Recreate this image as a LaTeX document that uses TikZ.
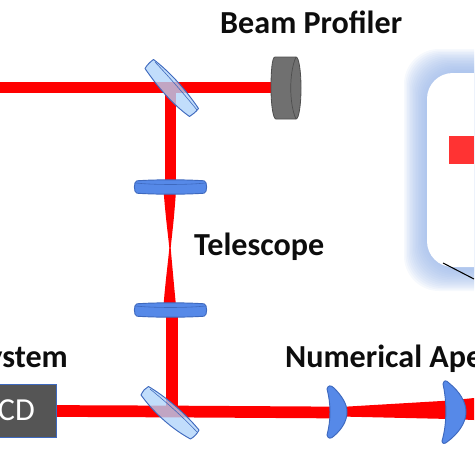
\documentclass[tikz,border=0pt]{standalone}
\usepackage{fontspec}
\setmainfont{Carlito}
\definecolor{lensblue}{RGB}{86,137,232}
\definecolor{lensedge}{RGB}{62,105,190}
\definecolor{slabblue}{RGB}{176,212,250}
\definecolor{glowblue}{RGB}{150,180,232}
\definecolor{detgray}{RGB}{112,112,112}
\definecolor{ccdgray}{RGB}{85,85,85}
\tikzset{
  beam/.style={red, line width=10pt},
  lens/.style={fill=lensblue, draw=lensedge, line width=0.8pt, line join=round},
  slab/.style={fill=slabblue, fill opacity=0.78, draw=lensedge, line width=0.8pt, line join=round},
  lbl/.style={font=\fontsize{27.4}{32}\selectfont\bfseries, inner sep=0pt, text=black!95}
}
\begin{document}
\begin{tikzpicture}[x=0.03cm, y=-0.03cm]
  \useasboundingbox (0,0) rectangle (474,474);
  \clip (0,0) rectangle (474,474);

  % Inset glow
  \foreach \g in {0,1.5,...,24}
    \fill[glowblue, opacity=0.085, rounded corners=30] (428-\g,73-\g) rectangle (520+\g,267+\g);
  \fill[white, rounded corners=22] (427,73) rectangle (520,267);
  \fill[red!80!white] (449,136) rectangle (474,164);
  \draw[black, line width=0.9pt] (443,263) -- (474,279);

  % Beam path
  \coordinate (in) at (0,87.5);
  \coordinate (top) at (170.5,87.5);
  \coordinate (low) at (172,411.5);
  \coordinate (ccd) at (56,411);
  \draw[beam] (in) -- (272,87.5);
  \draw[beam] (top) -- (170.5,186);
  \draw[beam] (172,310) -- (low);
  \draw[beam] (ccd) -- (low) -- (335,412.5);

  % Focus between the telescope lenses
  \fill[red] (163.5,190) .. controls (166,222) and (168.5,238) .. (169.3,248)
    .. controls (168.5,258) and (165,285) .. (163.5,306) -- (176,306)
    .. controls (174,285) and (171.5,258) .. (170.7,248)
    .. controls (171.5,238) and (174,222) .. (176,190) -- cycle;

  % Focus after the first aperture lens
  \fill[red] (340,407) -- (450,400.5) -- (474,398) -- (474,420) -- (450,419) -- (340,416.5) -- cycle;

  % Telescope lenses
  \foreach \ly in {180,303}{
    \draw[lens] (137,\ly+0.8) .. controls (155,\ly-0.5) and (186,\ly-0.5) .. (204,\ly+0.8)
      .. controls (207.5,\ly+1) and (207.5,\ly+13) .. (204,\ly+13.2)
      .. controls (186,\ly+14.5) and (155,\ly+14.5) .. (137,\ly+13.2)
      .. controls (133.5,\ly+13) and (133.5,\ly+1) .. (137,\ly+0.8) -- cycle;
    \draw[lensedge, line width=0.5pt] (135.5,\ly+3) .. controls (155,\ly+5) and (186,\ly+5) .. (205.5,\ly+3);
  }

  % Aperture lenses
  \draw[lens] (327,389) .. controls (328,385) and (331,385) .. (334,388)
    .. controls (342,396) and (347,404) .. (347,412)
    .. controls (347,421) and (342,429) .. (334,436)
    .. controls (331,439) and (328,439) .. (327,435)
    .. controls (331,420) and (331,404) .. (327,389) -- cycle;
  \draw[lens] (443,384) .. controls (444,380) and (446,380) .. (449,383)
    .. controls (460,392) and (466,402) .. (466,412)
    .. controls (466,423) and (458,434) .. (447,442)
    .. controls (445,444) and (442,444) .. (442,441)
    .. controls (447,424) and (447,402) .. (443,384) -- cycle;

  % Beam splitters
  \draw[slab] (153.5,59.5) .. controls (170,72) and (186,90) .. (198.5,108.5)
    .. controls (196,112) and (193,114) .. (189.5,116.5)
    .. controls (172,104) and (157,86) .. (145,68.5)
    .. controls (147,65) and (150,62) .. (153.5,59.5) -- cycle;
  \draw[lensedge, line width=0.5pt] (155,62) .. controls (170,78) and (184,94) .. (197,110);
  \draw[slab] (148.5,386.5) .. controls (166,397) and (185,413) .. (199,430)
    .. controls (197,434) and (194,437) .. (190.5,439)
    .. controls (172,429) and (154,413) .. (141,395)
    .. controls (143,391) and (145,388) .. (148.5,386.5) -- cycle;
  \draw[lensedge, line width=0.5pt] (150,389) .. controls (166,402) and (182,416) .. (197,432);

  % Beam profiler
  \draw[fill=detgray, draw=detgray!70!black, line width=0.7pt] (275,57) -- (296,57)
    .. controls (299,57) and (301,72) .. (301,88)
    .. controls (301,104) and (299,119) .. (296,119) -- (276,119)
    .. controls (273,119) and (271,104) .. (271,88)
    .. controls (271,72) and (272,57) .. (275,57) -- cycle;
  \draw[detgray!70!black, line width=0.6pt] (296,57) .. controls (289,72) and (289,104) .. (296,119);

  % CCD
  \node[draw=lensedge, fill=ccdgray, line width=0.8pt, minimum width=60*0.03cm, minimum height=52.5*0.03cm, inner sep=0pt, anchor=north west] (ccdbox) at (-4,384) {};
  \node[lbl, text=white, font=\fontsize{27.4}{32}\selectfont, anchor=base east] (ccdtext) at (35,420) {CD};

  % Labels
  \node[lbl, anchor=base west] (profiler) at (220,33) {Beam Profiler};
  \node[lbl, anchor=base west] (telescope) at (194,255) {Telescope};
  \node[lbl, anchor=base east] (system) at (68,367) {ystem};
  \node[lbl, anchor=base west] (aperture) at (285,367) {Numerical Ape};
\end{tikzpicture}
\end{document}
